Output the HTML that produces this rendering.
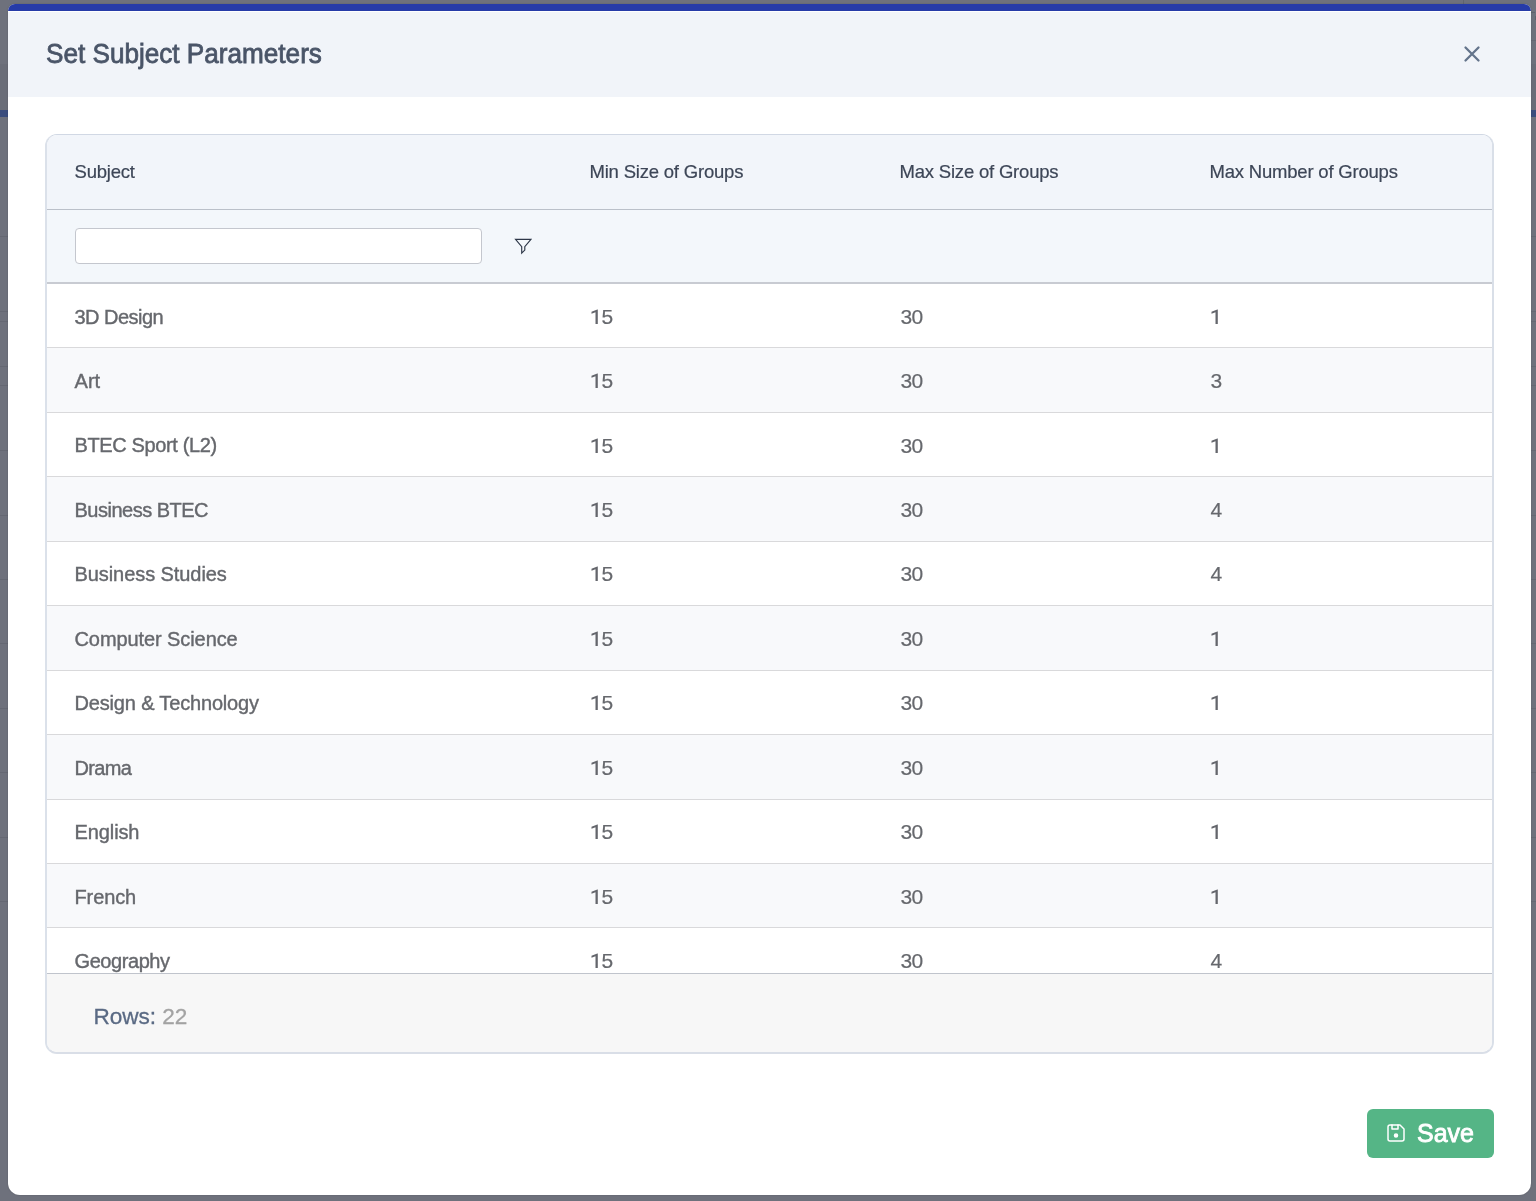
<!DOCTYPE html>
<html>
<head>
<meta charset="utf-8">
<style>
html,body{margin:0;padding:0;}
body{width:1536px;height:1201px;overflow:hidden;position:relative;background:#6e717c;font-family:"Liberation Sans",sans-serif;}
.bgl{position:absolute;left:0;width:1536px;height:1px;background:#656873;}
.modal{will-change:transform;position:absolute;left:8px;top:4px;width:1523px;height:1191px;background:#fff;border-radius:7px 7px 12px 12px;overflow:hidden;box-shadow:0 0 2px rgba(0,0,0,0.18);}
.topbar{position:absolute;left:0;top:0;width:100%;height:6.5px;background:#263ba8;}
.head{position:absolute;left:0;top:8px;width:100%;height:85px;background:#f1f4f9;}
.title{position:absolute;left:38px;top:27.8px;font-size:27.5px;line-height:1;font-weight:normal;-webkit-text-stroke:0.8px #4a5568;color:#4a5568;white-space:nowrap;transform:scaleX(0.95);transform-origin:0 0;}
.close{position:absolute;left:1454.3px;top:31.8px;}
.tbl{position:absolute;left:37px;top:130px;width:1445px;height:917px;border-style:solid;border-width:1px 2px 2px 2px;border-color:#d1d8e4 #d9dfe8 #d9dee7 #dbe1ea;border-radius:12px;overflow:hidden;background:#fff;}
.thead{position:absolute;left:0;top:0;width:100%;height:74px;background:#f2f5fa;border-bottom:1px solid #bbc0c9;}
.th{-webkit-text-stroke:0.2px #3d4657;position:absolute;top:27.9px;font-size:18.5px;line-height:1;letter-spacing:-0.2px;color:#3d4657;white-space:nowrap;}
.th.c1,.th.c2,.th.c3{margin-left:-1px;}
.frow{position:absolute;left:0;top:75px;width:100%;height:72px;background:#f3f7fb;border-bottom:2px solid #c8cbd2;}
.inp{position:absolute;left:28px;top:18px;width:405px;height:34px;border:1.3px solid #c4c7ce;border-radius:4px;background:#fff;}
.funnel{position:absolute;left:467px;top:26.7px;}
.rows{position:absolute;left:0;top:149px;width:100%;height:689px;overflow:hidden;}
.row{position:absolute;left:0;width:100%;height:63.45px;border-bottom:1px solid #d9d9db;}
.row.alt{background:#f8f9fb;}
.td{-webkit-text-stroke:0.2px #66686d;position:absolute;top:21.7px;font-size:21px;line-height:1;letter-spacing:-0.6px;color:#66686d;white-space:nowrap;}
.ts{font-size:20px;-webkit-text-stroke:0.4px #66686d;top:22.55px;}
.one{display:inline-block;position:relative;width:11.08px;height:14.5px;}
.one svg{position:absolute;left:0;top:-0.5px;}
.c0{left:27.5px}.c1{left:543.5px}.c2{left:853.5px}.c3{left:1163.5px}
.foot{position:absolute;left:0;top:838px;width:100%;height:79px;background:#f7f7f7;border-top:1px solid #c0c4cc;}
.rowsl{-webkit-text-stroke:0.3px #5a6a84;position:absolute;left:46.5px;top:32.3px;font-size:22.6px;line-height:1;letter-spacing:-0.05px;color:#5a6a84;white-space:nowrap;}
.rowsl span{color:#a3a3a3;-webkit-text-stroke:0.3px #a3a3a3;}
.save{position:absolute;left:1359px;top:1105px;width:127px;height:49px;background:#55b586;border-radius:6px;}
.savet{position:absolute;left:50.3px;top:10.6px;font-size:26.2px;line-height:1;font-weight:normal;-webkit-text-stroke:0.85px #fff;color:#fff;transform:scaleX(0.955);transform-origin:0 0;}
.saveic{position:absolute;left:16.8px;top:11.6px;}
</style>
</head>
<body>
<div class="bgl" style="top:236px"></div>
<div class="bgl" style="top:311px"></div>
<div class="bgl" style="top:321px"></div>
<div class="bgl" style="top:366px"></div>
<div class="bgl" style="top:385px"></div>
<div class="bgl" style="top:450px"></div>
<div class="bgl" style="top:515px"></div>
<div class="bgl" style="top:579px"></div>
<div class="bgl" style="top:643px"></div>
<div class="bgl" style="top:708px"></div>
<div class="bgl" style="top:772px"></div>
<div class="bgl" style="top:837px"></div>
<div class="bgl" style="top:901px"></div>
<div class="bgl" style="top:64px;height:46px;background:#6a6d78"></div>
<div class="bgl" style="top:110px;height:7px;background:#3b4d7d"></div>
<div class="bgl" style="top:12px;left:1531px;width:4px;background:#5f636e"></div>
<div class="bgl" style="top:40px;left:1531px;width:5px;background:#656873"></div>
<div class="bgl" style="top:16px;left:1535px;width:1px;height:4px;background:#60636e"></div>
<div class="bgl" style="top:0;left:1463px;width:1px;height:5px;background:#62656f"></div>
<div class="modal">
  <div class="topbar"></div>
  <div class="head">
    <div class="title">Set Subject Parameters</div>
    <svg class="close" width="32" height="32" viewBox="0 0 32 32"><path d="M3.5 3.5L16.5 16.5M16.5 3.5L3.5 16.5" stroke="#64748b" stroke-width="2.3" stroke-linecap="round" fill="none"/></svg>
  </div>
  <div class="tbl">
    <div class="thead">
      <div class="th c0">Subject</div>
      <div class="th c1">Min Size of Groups</div>
      <div class="th c2">Max Size of Groups</div>
      <div class="th c3">Max Number of Groups</div>
    </div>
    <div class="frow">
      <div class="inp"></div>
      <svg class="funnel" width="18.5" height="18.5" viewBox="0 0 24 24"><path d="M22 3H2l8 9.46V21l4-4v-4.54L22 3z" stroke="#2d3748" stroke-width="1.5" fill="none" stroke-linejoin="miter"/></svg>
    </div>
    <div class="rows">
      <div class="row" style="top:0.0px"><div class="td ts c0" style="letter-spacing:-0.519px">3D Design</div><div class="td c1"><span class="one"><svg width="11" height="16" viewBox="0 -15 11 16"><path d="M6.8 0V-14.5H6.3L0.5 -12.3V-10.3L4.5 -11.7V0Z" fill="#64666c"/></svg></span>5</div><div class="td c2">30</div><div class="td c3"><span class="one"><svg width="11" height="16" viewBox="0 -15 11 16"><path d="M6.8 0V-14.5H6.3L0.5 -12.3V-10.3L4.5 -11.7V0Z" fill="#64666c"/></svg></span></div></div>
      <div class="row alt" style="top:64.45px"><div class="td ts c0" style="letter-spacing:0.05px">Art</div><div class="td c1"><span class="one"><svg width="11" height="16" viewBox="0 -15 11 16"><path d="M6.8 0V-14.5H6.3L0.5 -12.3V-10.3L4.5 -11.7V0Z" fill="#64666c"/></svg></span>5</div><div class="td c2">30</div><div class="td c3">3</div></div>
      <div class="row" style="top:128.9px"><div class="td ts c0" style="letter-spacing:-0.364px">BTEC Sport (L2)</div><div class="td c1"><span class="one"><svg width="11" height="16" viewBox="0 -15 11 16"><path d="M6.8 0V-14.5H6.3L0.5 -12.3V-10.3L4.5 -11.7V0Z" fill="#64666c"/></svg></span>5</div><div class="td c2">30</div><div class="td c3"><span class="one"><svg width="11" height="16" viewBox="0 -15 11 16"><path d="M6.8 0V-14.5H6.3L0.5 -12.3V-10.3L4.5 -11.7V0Z" fill="#64666c"/></svg></span></div></div>
      <div class="row alt" style="top:193.35px"><div class="td ts c0" style="letter-spacing:-0.5px">Business BTEC</div><div class="td c1"><span class="one"><svg width="11" height="16" viewBox="0 -15 11 16"><path d="M6.8 0V-14.5H6.3L0.5 -12.3V-10.3L4.5 -11.7V0Z" fill="#64666c"/></svg></span>5</div><div class="td c2">30</div><div class="td c3">4</div></div>
      <div class="row" style="top:257.8px"><div class="td ts c0" style="letter-spacing:-0.073px">Business Studies</div><div class="td c1"><span class="one"><svg width="11" height="16" viewBox="0 -15 11 16"><path d="M6.8 0V-14.5H6.3L0.5 -12.3V-10.3L4.5 -11.7V0Z" fill="#64666c"/></svg></span>5</div><div class="td c2">30</div><div class="td c3">4</div></div>
      <div class="row alt" style="top:322.25px"><div class="td ts c0" style="letter-spacing:-0.087px">Computer Science</div><div class="td c1"><span class="one"><svg width="11" height="16" viewBox="0 -15 11 16"><path d="M6.8 0V-14.5H6.3L0.5 -12.3V-10.3L4.5 -11.7V0Z" fill="#64666c"/></svg></span>5</div><div class="td c2">30</div><div class="td c3"><span class="one"><svg width="11" height="16" viewBox="0 -15 11 16"><path d="M6.8 0V-14.5H6.3L0.5 -12.3V-10.3L4.5 -11.7V0Z" fill="#64666c"/></svg></span></div></div>
      <div class="row" style="top:386.7px"><div class="td ts c0" style="letter-spacing:-0.167px">Design &amp; Technology</div><div class="td c1"><span class="one"><svg width="11" height="16" viewBox="0 -15 11 16"><path d="M6.8 0V-14.5H6.3L0.5 -12.3V-10.3L4.5 -11.7V0Z" fill="#64666c"/></svg></span>5</div><div class="td c2">30</div><div class="td c3"><span class="one"><svg width="11" height="16" viewBox="0 -15 11 16"><path d="M6.8 0V-14.5H6.3L0.5 -12.3V-10.3L4.5 -11.7V0Z" fill="#64666c"/></svg></span></div></div>
      <div class="row alt" style="top:451.15px"><div class="td ts c0" style="letter-spacing:-0.65px">Drama</div><div class="td c1"><span class="one"><svg width="11" height="16" viewBox="0 -15 11 16"><path d="M6.8 0V-14.5H6.3L0.5 -12.3V-10.3L4.5 -11.7V0Z" fill="#64666c"/></svg></span>5</div><div class="td c2">30</div><div class="td c3"><span class="one"><svg width="11" height="16" viewBox="0 -15 11 16"><path d="M6.8 0V-14.5H6.3L0.5 -12.3V-10.3L4.5 -11.7V0Z" fill="#64666c"/></svg></span></div></div>
      <div class="row" style="top:515.6px"><div class="td ts c0" style="letter-spacing:-0.1px">English</div><div class="td c1"><span class="one"><svg width="11" height="16" viewBox="0 -15 11 16"><path d="M6.8 0V-14.5H6.3L0.5 -12.3V-10.3L4.5 -11.7V0Z" fill="#64666c"/></svg></span>5</div><div class="td c2">30</div><div class="td c3"><span class="one"><svg width="11" height="16" viewBox="0 -15 11 16"><path d="M6.8 0V-14.5H6.3L0.5 -12.3V-10.3L4.5 -11.7V0Z" fill="#64666c"/></svg></span></div></div>
      <div class="row alt" style="top:580.05px"><div class="td ts c0" style="letter-spacing:-0.12px">French</div><div class="td c1"><span class="one"><svg width="11" height="16" viewBox="0 -15 11 16"><path d="M6.8 0V-14.5H6.3L0.5 -12.3V-10.3L4.5 -11.7V0Z" fill="#64666c"/></svg></span>5</div><div class="td c2">30</div><div class="td c3"><span class="one"><svg width="11" height="16" viewBox="0 -15 11 16"><path d="M6.8 0V-14.5H6.3L0.5 -12.3V-10.3L4.5 -11.7V0Z" fill="#64666c"/></svg></span></div></div>
      <div class="row" style="top:644.5px"><div class="td ts c0" style="letter-spacing:-0.425px">Geography</div><div class="td c1"><span class="one"><svg width="11" height="16" viewBox="0 -15 11 16"><path d="M6.8 0V-14.5H6.3L0.5 -12.3V-10.3L4.5 -11.7V0Z" fill="#64666c"/></svg></span>5</div><div class="td c2">30</div><div class="td c3">4</div></div>
    </div>
    <div class="foot"><div class="rowsl">Rows: <span>22</span></div></div>
  </div>
  <div class="save">
    <svg class="saveic" width="24" height="24" viewBox="0 0 24 24" fill="none" stroke="#fff" stroke-width="1.5" stroke-linecap="round" stroke-linejoin="round"><path d="M6 4h10l4 4v10a2 2 0 0 1 -2 2h-12a2 2 0 0 1 -2 -2v-12a2 2 0 0 1 2 -2"/><circle cx="12" cy="14.5" r="1.5" fill="#fff"/><path d="M14 4l0 4l-6 0l0 -4"/></svg>
    <div class="savet">Save</div>
  </div>
</div>
</body>
</html>
